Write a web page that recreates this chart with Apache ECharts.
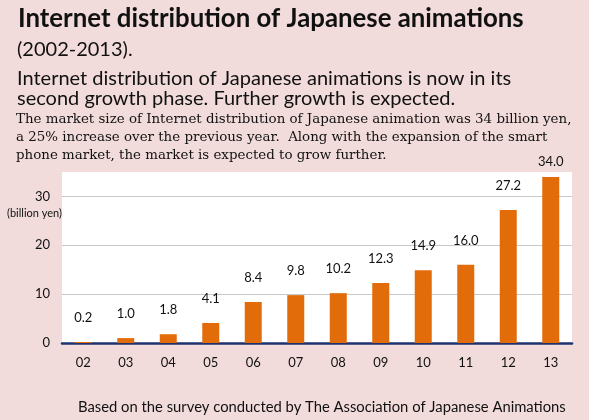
<!DOCTYPE html>
<html><head><meta charset="utf-8">
<script src="https://cdn.jsdelivr.net/npm/echarts@6/dist/echarts.min.js"></script>
<style>html,body{margin:0;padding:0;background:#f2dcdb}#c{width:589px;height:420px}</style>
</head><body><div id="c"></div>
<script>
const categories = ['02','03','04','05','06','07','08','09','10','11','12','13'];
const values = [0.2, 1.0, 1.8, 4.1, 8.4, 9.8, 10.2, 12.3, 14.9, 16.0, 27.2, 34.0];
const valueLabels = ['0.2','1.0','1.8','4.1','8.4','9.8','10.2','12.3','14.9','16.0','27.2','34.0'];
const yTicks = [0, 10, 20, 30];
const titleText = 'Internet distribution of Japanese animations';
const subtitleText = '(2002-2013).';
const headline = ['Internet distribution of Japanese animations is now in its', 'second growth phase. Further growth is expected.'];
const bodyText = ['The market size of Internet distribution of Japanese animation was 34 billion yen,', 'a 25% increase over the previous year.  Along with the expansion of the smart', 'phone market, the market is expected to grow further.'];
const unitText = '(billion yen)';
const sourceText = 'Based on the survey conducted by The Association of Japanese Animations';

const sans = 'Lato, "Open Sans", sans-serif';
const serif = '"DejaVu Serif", "Liberation Serif", serif';
const chart = echarts.init(document.getElementById('c'));
const data = values.map((v, i) => {
  const d = { value: v };
  if (i === values.length - 1) d.label = { distance: 9 };
  return d;
});
chart.setOption({
  backgroundColor: '#f2dcdb',
  animation: false,
  title: [
    { text: titleText, left: 13, top: 1, textStyle: { fontFamily: sans, fontWeight: 'bold', fontSize: 25.8, color: '#111' } },
    { text: subtitleText, left: 12, top: 35, textStyle: { fontFamily: sans, fontWeight: 'normal', fontSize: 20, color: '#111' } },
    { text: headline.join('\n'), left: 12, top: 64, textStyle: { fontFamily: sans, fontWeight: 'normal', fontSize: 20, lineHeight: 20, color: '#111' } },
    { text: bodyText.join('\n'), left: 11, top: 106, textStyle: { fontFamily: serif, fontWeight: 'normal', fontSize: 13.4, lineHeight: 18, color: '#111' } },
    { text: unitText, left: 2, top: 203, textStyle: { fontFamily: sans, fontWeight: 'normal', fontSize: 11, color: '#111' } },
    { text: sourceText, left: 73, top: 395, textStyle: { fontFamily: sans, fontWeight: 'normal', fontSize: 14.8, color: '#111' } }
  ],
  grid: { left: 62, right: 17, top: 172, bottom: 77, show: true, backgroundColor: '#ffffff', borderWidth: 0 },
  xAxis: {
    type: 'category', data: categories,
    axisLine: { lineStyle: { color: '#1f3270', width: 2.5 } },
    axisTick: { show: false },
    axisLabel: { fontFamily: sans, fontSize: 13, color: '#111', margin: 13 }
  },
  yAxis: {
    type: 'value', min: 0, max: 35, interval: 10,
    axisLine: { show: false }, axisTick: { show: false },
    axisLabel: { fontFamily: sans, fontSize: 13, color: '#111', margin: 12, showMaxLabel: false,
      formatter: v => yTicks.includes(v) ? String(v) : '' },
    splitLine: { lineStyle: { color: ['#c8c8c8', '#c8c8c8', '#c8c8c8', '#c8c8c8', '#ffffff'], width: 1.2 } }
  },
  series: [{
    type: 'bar', data: data, barWidth: 17,
    itemStyle: { color: '#e36c0a' },
    label: { show: true, position: 'top', distance: 18, fontFamily: sans, fontSize: 13, color: '#111',
      formatter: p => valueLabels[p.dataIndex] }
  }]
});
</script></body></html>
